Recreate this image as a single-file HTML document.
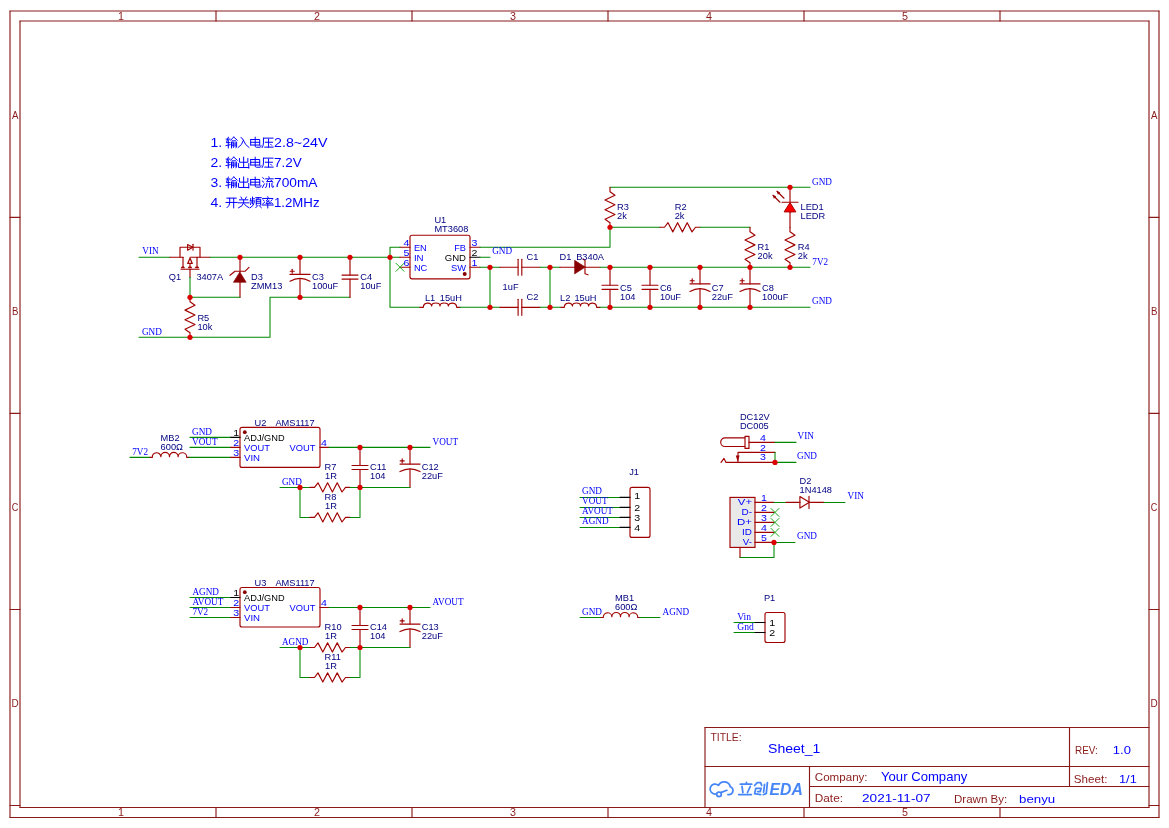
<!DOCTYPE html>
<html><head><meta charset="utf-8"><title>Schematic</title><style>
html,body{margin:0;padding:0;background:#fff;}
svg{display:block;will-change:transform;}
.c,.f,.fb,.tb,.w,.k,.ca{fill:none;stroke-linecap:round;stroke-linejoin:round;}
.f{stroke:#8a1a1a;stroke-width:1.15;}
.fb{stroke:#8a1a1a;stroke-width:1.15;}
.tb{stroke:#8a1a1a;stroke-width:1.15;}
.c{stroke:#a00000;stroke-width:1.15;}
.ca{stroke:#990000;stroke-width:1.1;}
.cg{fill:#e9e9e9;stroke:#a00000;stroke-width:1.15;}
.cf{fill:none;stroke:#a00000;stroke-width:1.1;stroke-linejoin:round;}
.fl{fill:#a00000;}
.fd{fill:#880000;stroke:#880000;stroke-width:0.6;stroke-linejoin:round;}
.fled{fill:#ff0000;stroke:#aa0000;stroke-width:1;stroke-linejoin:round;}
.fa{fill:#990000;}
.dot{fill:#880000;}
.nc{fill:none;stroke:#1aaa1a;stroke-width:1;stroke-linecap:round;}
.w{stroke:#008800;stroke-width:1.05;}
.k{stroke:#000000;stroke-width:1.1;}
.j{fill:#dd0000;}
text{font-family:"Liberation Sans",sans-serif;}
.n{fill:#000080;font-size:9.25px;}
.p{fill:#0000ff;font-size:9.9px;}
.pk{fill:#000000;font-size:9.9px;}
.nl{fill:#0000ff;font-family:"Liberation Serif",serif;font-size:9.2px;}
.nl2{fill:#0000ff;font-family:"Liberation Serif",serif;font-size:9.6px;}
.fr{fill:#8a1a1a;font-size:10.8px;}
.tl{fill:#8a1a1a;}
.tv{fill:#0000ff;}
.nt{fill:#0000ff;}
.cj{fill:none;stroke:#0000ff;stroke-width:1.0;stroke-linecap:round;stroke-linejoin:round;}
</style></head><body>
<svg width="1169" height="828" viewBox="0 0 1169 828">
<g>
<line class="f" x1="10" y1="11" x2="1159" y2="11"/>
<line class="f" x1="10" y1="11" x2="10" y2="817.5"/>
<line class="f" x1="1159" y1="11" x2="1159" y2="817.5"/>
<line class="fb" x1="10" y1="817.5" x2="1159" y2="817.5"/>
<line class="f" x1="20" y1="21" x2="1149" y2="21"/>
<line class="f" x1="20" y1="21" x2="20" y2="807.5"/>
<line class="f" x1="1149" y1="21" x2="1149" y2="807.5"/>
<line class="fb" x1="20" y1="807.5" x2="1149" y2="807.5"/>
<line class="f" x1="216" y1="11" x2="216" y2="21"/>
<line class="fb" x1="216" y1="807.5" x2="216" y2="817.5"/>
<line class="f" x1="412" y1="11" x2="412" y2="21"/>
<line class="fb" x1="412" y1="807.5" x2="412" y2="817.5"/>
<line class="f" x1="608" y1="11" x2="608" y2="21"/>
<line class="fb" x1="608" y1="807.5" x2="608" y2="817.5"/>
<line class="f" x1="804" y1="11" x2="804" y2="21"/>
<line class="fb" x1="804" y1="807.5" x2="804" y2="817.5"/>
<line class="f" x1="1000" y1="11" x2="1000" y2="21"/>
<line class="fb" x1="1000" y1="807.5" x2="1000" y2="817.5"/>
<line class="f" x1="10" y1="217.3" x2="20" y2="217.3"/>
<line class="f" x1="1149" y1="217.3" x2="1159" y2="217.3"/>
<line class="f" x1="10" y1="413.4" x2="20" y2="413.4"/>
<line class="f" x1="1149" y1="413.4" x2="1159" y2="413.4"/>
<line class="f" x1="10" y1="609.5" x2="20" y2="609.5"/>
<line class="f" x1="1149" y1="609.5" x2="1159" y2="609.5"/>
<line class="f" x1="10" y1="805.5" x2="20" y2="805.5"/>
<line class="f" x1="1149" y1="805.5" x2="1159" y2="805.5"/>
<text class="fr" x="118" y="19.8" textLength="5.98" lengthAdjust="spacingAndGlyphs">1</text>
<text class="fr" x="118" y="815.8" textLength="5.98" lengthAdjust="spacingAndGlyphs">1</text>
<text class="fr" x="314" y="19.8" textLength="5.98" lengthAdjust="spacingAndGlyphs">2</text>
<text class="fr" x="314" y="815.8" textLength="5.98" lengthAdjust="spacingAndGlyphs">2</text>
<text class="fr" x="510" y="19.8" textLength="5.98" lengthAdjust="spacingAndGlyphs">3</text>
<text class="fr" x="510" y="815.8" textLength="5.98" lengthAdjust="spacingAndGlyphs">3</text>
<text class="fr" x="706" y="19.8" textLength="5.98" lengthAdjust="spacingAndGlyphs">4</text>
<text class="fr" x="706" y="815.8" textLength="5.98" lengthAdjust="spacingAndGlyphs">4</text>
<text class="fr" x="902" y="19.8" textLength="5.98" lengthAdjust="spacingAndGlyphs">5</text>
<text class="fr" x="902" y="815.8" textLength="5.98" lengthAdjust="spacingAndGlyphs">5</text>
<text class="fr" text-anchor="middle" x="15.1" y="118.9" textLength="6.43" lengthAdjust="spacingAndGlyphs">A</text>
<text class="fr" text-anchor="middle" x="1154.1" y="118.9" textLength="6.43" lengthAdjust="spacingAndGlyphs">A</text>
<text class="fr" text-anchor="middle" x="15.1" y="315" textLength="6.45" lengthAdjust="spacingAndGlyphs">B</text>
<text class="fr" text-anchor="middle" x="1154.1" y="315" textLength="6.45" lengthAdjust="spacingAndGlyphs">B</text>
<text class="fr" text-anchor="middle" x="15.1" y="511.1" textLength="6.56" lengthAdjust="spacingAndGlyphs">C</text>
<text class="fr" text-anchor="middle" x="1154.1" y="511.1" textLength="6.56" lengthAdjust="spacingAndGlyphs">C</text>
<text class="fr" text-anchor="middle" x="15.1" y="707.2" textLength="7.24" lengthAdjust="spacingAndGlyphs">D</text>
<text class="fr" text-anchor="middle" x="1154.1" y="707.2" textLength="7.24" lengthAdjust="spacingAndGlyphs">D</text>
<line class="tb" x1="705" y1="727.5" x2="1149" y2="727.5"/>
<line class="tb" x1="705" y1="727.5" x2="705" y2="807.5"/>
<line class="tb" x1="705" y1="766.5" x2="1149" y2="766.5"/>
<line class="tb" x1="809.5" y1="766.5" x2="809.5" y2="807.5"/>
<line class="tb" x1="809.5" y1="786.5" x2="1149" y2="786.5"/>
<line class="tb" x1="1069.5" y1="727.5" x2="1069.5" y2="786.5"/>
<text class="tl" x="710.5" y="740.7" style="font-size:10.3px" textLength="31.2" lengthAdjust="spacingAndGlyphs">TITLE:</text>
<text class="tv" x="768" y="753" style="font-size:13px" textLength="52.4" lengthAdjust="spacingAndGlyphs">Sheet_1</text>
<text class="tl" x="1075" y="753.8" style="font-size:10.3px" textLength="22.8" lengthAdjust="spacingAndGlyphs">REV:</text>
<text class="tv" x="1112.8" y="753.8" style="font-size:11.4px" textLength="18.1" lengthAdjust="spacingAndGlyphs">1.0</text>
<text class="tl" x="814.8" y="780.7" style="font-size:10.5px" textLength="52.8" lengthAdjust="spacingAndGlyphs">Company:</text>
<text class="tv" x="881" y="780.7" style="font-size:11.9px" textLength="86.3" lengthAdjust="spacingAndGlyphs">Your Company</text>
<text class="tl" x="1073.8" y="782.7" style="font-size:10.4px" textLength="33.6" lengthAdjust="spacingAndGlyphs">Sheet:</text>
<text class="tv" x="1119" y="782.7" style="font-size:11.1px" textLength="17.8" lengthAdjust="spacingAndGlyphs">1/1</text>
<text class="tl" x="814.8" y="802.3" style="font-size:10.4px" textLength="28.2" lengthAdjust="spacingAndGlyphs">Date:</text>
<text class="tv" x="862" y="802.3" style="font-size:11.8px" textLength="68.6" lengthAdjust="spacingAndGlyphs">2021-11-07</text>
<text class="tl" x="954" y="802.8" style="font-size:10.4px" textLength="53.3" lengthAdjust="spacingAndGlyphs">Drawn By:</text>
<text class="tv" x="1019" y="802.8" style="font-size:11.6px" textLength="36.2" lengthAdjust="spacingAndGlyphs">benyu</text>
<line class="w" x1="139" y1="257.29" x2="170" y2="257.29"/>
<text class="nl" transform="matrix(1 0 0 1.12 142.3 254.3)">VIN</text>
<line class="c" x1="170" y1="257.29" x2="183" y2="257.29"/>
<line class="c" x1="183" y1="257.29" x2="183" y2="267.29"/>
<polyline class="c" points="180,257.29 180,247.28 200,247.28 200,257.29"/>
<path class="cf" d="M187.6,244.5 L193,247.3 L187.6,250.2 Z"/>
<line class="c" x1="193" y1="244.28" x2="193" y2="250.28"/>
<line class="c" x1="190" y1="257.29" x2="210" y2="257.29"/>
<line class="c" x1="197" y1="257.29" x2="197" y2="267.29"/>
<line class="c" x1="190" y1="263.6" x2="190" y2="267.2"/>
<path class="cf" style="stroke-width:1.25" d="M190,258.2 L192.3,263.4 L187.7,263.4 Z"/>
<path class="fl" d="M180.6,268.2 L181.79999999999998,266.4 L184.0,266.4 L185.2,268.2 Z"/>
<path class="fl" d="M187.6,268.2 L188.79999999999998,266.4 L191.20000000000002,266.4 L192.4,268.2 Z"/>
<path class="fl" d="M194.6,268.2 L195.79999999999998,266.4 L198.20000000000002,266.4 L199.4,268.2 Z"/>
<line class="c" x1="181" y1="269.29" x2="199" y2="269.29"/>
<line class="c" x1="190" y1="269.29" x2="190" y2="277.3"/>
<line class="w" x1="190" y1="277.3" x2="190" y2="297.31"/>
<text class="n" transform="matrix(1 0 0 1.0 168.8 280)">Q1</text>
<text class="n" transform="matrix(1 0 0 1.0 196.4 280)">3407A</text>
<line class="w" x1="210" y1="257.29" x2="400" y2="257.29"/>
<line class="c" x1="240" y1="257.29" x2="240" y2="272.29"/>
<line class="c" x1="240" y1="282.3" x2="240" y2="297.31"/>
<path class="fd" d="M239.8,272 L246.2,282.3 L233.4,282.3 Z"/>
<polyline class="c" points="230,275.29 235,271.29 245,271.29 249,267.29"/>
<text class="n" transform="matrix(1 0 0 1.0 251 280)">D3</text>
<text class="n" transform="matrix(1 0 0 1.0 251 289.4)">ZMM13</text>
<line class="w" x1="190" y1="297.31" x2="240" y2="297.31"/>
<polyline class="c" points="190,297.31 190,301.81 195,305.31 185,310.11 195,314.91 185,319.7 195,324.5 185,329.31 190,332.81 190,337.31"/>
<text class="n" transform="matrix(1 0 0 1.0 197.4 320.6)">R5</text>
<text class="n" transform="matrix(1 0 0 1.0 197.4 329.7)">10k</text>
<polyline class="w" points="139,337.32 270,337.32 270,297.31 350,297.31"/>
<text class="nl" transform="matrix(1 0 0 1.12 141.9 334.6)">GND</text>
<line class="c" x1="300" y1="257.29" x2="300" y2="274.4"/>
<line class="c" x1="300" y1="278.6" x2="300" y2="297.31"/>
<line class="c" x1="290" y1="274.4" x2="310" y2="274.4"/>
<path class="c" d="M290,281.2 Q300,275.6 310,281.2"/>
<line class="c" x1="290.2" y1="271.2" x2="294.2" y2="271.2"/>
<line class="c" x1="292.2" y1="269.2" x2="292.2" y2="273.2"/>
<text class="n" transform="matrix(1 0 0 1.0 312 280.4)">C3</text>
<text class="n" transform="matrix(1 0 0 1.0 312 289.2)">100uF</text>
<line class="c" x1="350" y1="257.29" x2="350" y2="275.1"/>
<line class="c" x1="350" y1="279.1" x2="350" y2="297.31"/>
<line class="c" x1="342" y1="275.1" x2="358" y2="275.1"/>
<line class="c" x1="342" y1="279.1" x2="358" y2="279.1"/>
<text class="n" transform="matrix(1 0 0 1.0 360.3 280.4)">C4</text>
<text class="n" transform="matrix(1 0 0 1.0 360.3 289.2)">10uF</text>
<rect class="c" x="410" y="235.27" width="60" height="43.53" rx="2"/>
<line class="c" x1="400" y1="247.28" x2="410" y2="247.28"/>
<line class="c" x1="400" y1="257.29" x2="410" y2="257.29"/>
<line class="c" x1="400" y1="267.29" x2="410" y2="267.29"/>
<line class="c" x1="470" y1="247.28" x2="480" y2="247.28"/>
<line class="k" x1="470" y1="257.29" x2="480" y2="257.29"/>
<line class="c" x1="470" y1="267.29" x2="480" y2="267.29"/>
<text class="p" x="403.6" y="245.9" textLength="5.92" lengthAdjust="spacingAndGlyphs">4</text>
<text class="p" x="403.6" y="255.8" textLength="5.92" lengthAdjust="spacingAndGlyphs">5</text>
<text class="p" x="403.6" y="265.8" textLength="5.92" lengthAdjust="spacingAndGlyphs">6</text>
<text class="p" x="413.9" y="250.5" textLength="12.83" lengthAdjust="spacingAndGlyphs">EN</text>
<text class="p" x="413.9" y="260.5" textLength="9.7" lengthAdjust="spacingAndGlyphs">IN</text>
<text class="p" x="413.9" y="270.8" textLength="13.45" lengthAdjust="spacingAndGlyphs">NC</text>
<text class="p" text-anchor="end" x="466" y="250.5" textLength="11.73" lengthAdjust="spacingAndGlyphs">FB</text>
<text class="pk" text-anchor="end" x="466" y="260.5" textLength="21.32" lengthAdjust="spacingAndGlyphs">GND</text>
<text class="p" text-anchor="end" x="466" y="270.8" textLength="15.1" lengthAdjust="spacingAndGlyphs">SW</text>
<text class="p" x="471.6" y="245.9" textLength="5.92" lengthAdjust="spacingAndGlyphs">3</text>
<text class="pk" x="471.6" y="255.8" textLength="5.92" lengthAdjust="spacingAndGlyphs">2</text>
<text class="p" x="471.6" y="265.8" textLength="5.92" lengthAdjust="spacingAndGlyphs">1</text>
<circle class="dot" cx="464.7" cy="274.1" r="2"/>
<text class="n" transform="matrix(1 0 0 1.0 434.4 223.3)">U1</text>
<text class="n" transform="matrix(1 0 0 1.0 434.4 231.6)">MT3608</text>
<line class="nc" x1="396" y1="263.29" x2="404" y2="271.29"/>
<line class="nc" x1="396" y1="271.29" x2="404" y2="263.29"/>
<polyline class="w" points="400,247.28 390,247.28 390,307.31 420,307.31"/>
<polyline class="w" points="480,247.28 610,247.28 610,227.27"/>
<polyline class="w" points="610,187.25 810,187.25"/>
<line class="w" x1="480" y1="257.29" x2="490" y2="257.29"/>
<text class="nl" transform="matrix(1 0 0 1.12 492.2 254.3)">GND</text>
<line class="w" x1="480" y1="267.29" x2="500" y2="267.29"/>
<line class="w" x1="490" y1="267.29" x2="490" y2="307.31"/>
<path class="c" d="M420,307.31 L423.3,307.31 C423.5,302.01 431.45,302.01 431.65,305.91 C431.85,302.01 439.8,302.01 440,305.91 C440.2,302.01 448.15,302.01 448.35,305.91 C448.55,302.01 456.5,302.01 456.7,307.31 L460,307.31"/>
<text class="n" transform="matrix(1 0 0 1.0 424.9 300.7)">L1</text>
<text class="n" transform="matrix(1 0 0 1.0 439.8 300.7)">15uH</text>
<line class="w" x1="460" y1="307.31" x2="500" y2="307.31"/>
<line class="c" x1="500" y1="267.29" x2="518.1" y2="267.29"/>
<line class="c" x1="521.8" y1="267.29" x2="540" y2="267.29"/>
<line class="c" x1="518.1" y1="259.29" x2="518.1" y2="275.29"/>
<line class="c" x1="521.8" y1="259.29" x2="521.8" y2="275.29"/>
<line class="c" x1="500" y1="307.31" x2="518.1" y2="307.31"/>
<line class="c" x1="521.8" y1="307.31" x2="540" y2="307.31"/>
<line class="c" x1="518.1" y1="299.31" x2="518.1" y2="315.31"/>
<line class="c" x1="521.8" y1="299.31" x2="521.8" y2="315.31"/>
<text class="n" transform="matrix(1 0 0 1.0 526.5 260)">C1</text>
<text class="n" transform="matrix(1 0 0 1.0 526.5 300.3)">C2</text>
<text class="n" transform="matrix(1 0 0 1.0 502.6 290)">1uF</text>
<line class="w" x1="540" y1="267.29" x2="560" y2="267.29"/>
<line class="w" x1="540" y1="307.31" x2="561" y2="307.31"/>
<line class="w" x1="550" y1="267.29" x2="550" y2="307.31"/>
<line class="c" x1="560" y1="267.29" x2="575" y2="267.29"/>
<path class="fd" d="M574.6,260.3 L585.3,267.1 L574.6,273.9 Z"/>
<polyline class="c" points="583,259.29 585,260.29 585,273.8 588,274.8"/>
<line class="c" x1="585" y1="267.29" x2="600" y2="267.29"/>
<text class="n" transform="matrix(1 0 0 1.0 559.5 259.7)">D1</text>
<text class="n" transform="matrix(1 0 0 1.0 576.2 259.7)">B340A</text>
<line class="w" x1="600" y1="267.29" x2="810" y2="267.29"/>
<path class="c" d="M561,307.31 L564.3,307.31 C564.5,302.01 572.2,302.01 572.4,305.91 C572.6,302.01 580.3,302.01 580.5,305.91 C580.7,302.01 588.4,302.01 588.6,305.91 C588.8,302.01 596.5,302.01 596.7,307.31 L600,307.31"/>
<text class="n" transform="matrix(1 0 0 1.0 560 300.7)">L2</text>
<text class="n" transform="matrix(1 0 0 1.0 574.4 300.7)">15uH</text>
<line class="w" x1="600" y1="307.31" x2="810" y2="307.31"/>
<line class="c" x1="610" y1="267.29" x2="610" y2="285.2"/>
<line class="c" x1="610" y1="289.3" x2="610" y2="307.31"/>
<line class="c" x1="602" y1="285.2" x2="618" y2="285.2"/>
<line class="c" x1="602" y1="289.3" x2="618" y2="289.3"/>
<text class="n" transform="matrix(1 0 0 1.0 620 290.5)">C5</text>
<text class="n" transform="matrix(1 0 0 1.0 620 299.6)">104</text>
<line class="c" x1="650" y1="267.29" x2="650" y2="285.2"/>
<line class="c" x1="650" y1="289.3" x2="650" y2="307.31"/>
<line class="c" x1="642" y1="285.2" x2="658" y2="285.2"/>
<line class="c" x1="642" y1="289.3" x2="658" y2="289.3"/>
<text class="n" transform="matrix(1 0 0 1.0 659.9 290.5)">C6</text>
<text class="n" transform="matrix(1 0 0 1.0 659.9 299.6)">10uF</text>
<line class="c" x1="700" y1="267.29" x2="700" y2="283.9"/>
<line class="c" x1="700" y1="288.8" x2="700" y2="307.31"/>
<line class="c" x1="690" y1="283.9" x2="710" y2="283.9"/>
<path class="c" d="M690,291.4 Q700,285.8 710,291.4"/>
<line class="c" x1="690.2" y1="280.7" x2="694.2" y2="280.7"/>
<line class="c" x1="692.2" y1="278.7" x2="692.2" y2="282.7"/>
<text class="n" transform="matrix(1 0 0 1.0 711.8 290.5)">C7</text>
<text class="n" transform="matrix(1 0 0 1.0 711.8 299.6)">22uF</text>
<line class="c" x1="750" y1="267.29" x2="750" y2="283.9"/>
<line class="c" x1="750" y1="288.8" x2="750" y2="307.31"/>
<line class="c" x1="740" y1="283.9" x2="760" y2="283.9"/>
<path class="c" d="M740,291.4 Q750,285.8 760,291.4"/>
<line class="c" x1="740.2" y1="280.7" x2="744.2" y2="280.7"/>
<line class="c" x1="742.2" y1="278.7" x2="742.2" y2="282.7"/>
<text class="n" transform="matrix(1 0 0 1.0 762.1 290.5)">C8</text>
<text class="n" transform="matrix(1 0 0 1.0 762.1 299.6)">100uF</text>
<polyline class="c" points="610,187.25 610,191.75 615,195.25 605,200.05 615,204.85 605,209.65 615,214.45 605,219.25 610,222.75 610,227.25"/>
<text class="n" transform="matrix(1 0 0 1.0 617.1 210.2)">R3</text>
<text class="n" transform="matrix(1 0 0 1.0 617.1 219.3)">2k</text>
<line class="w" x1="610" y1="227.27" x2="660" y2="227.27"/>
<polyline class="c" points="660,227.27 664.5,227.27 668,222.67 672.8,231.87 677.6,222.67 682.4,231.87 687.2,222.67 692,231.87 695.5,227.27 700,227.27"/>
<text class="n" transform="matrix(1 0 0 1.0 674.7 210)">R2</text>
<text class="n" transform="matrix(1 0 0 1.0 674.7 219.3)">2k</text>
<line class="w" x1="700" y1="227.27" x2="750" y2="227.27"/>
<polyline class="c" points="750,227.27 750,231.77 755,235.27 745,240.07 755,244.87 745,249.67 755,254.47 745,259.27 750,262.77 750,267.27"/>
<text class="n" transform="matrix(1 0 0 1.0 757.6 250)">R1</text>
<text class="n" transform="matrix(1 0 0 1.0 757.6 259.1)">20k</text>
<line class="c" x1="790" y1="187.25" x2="790" y2="202.26"/>
<line class="c" x1="782" y1="202.26" x2="798" y2="202.26"/>
<path class="fled" d="M790,202.6 L795.9,211.9 L784.1,211.9 Z"/>
<line class="c" x1="790" y1="212.26" x2="790" y2="227.27"/>
<polyline class="c" points="790,227.27 790,231.77 795,235.27 785,240.07 795,244.87 785,249.67 795,254.47 785,259.27 790,262.77 790,267.27"/>
<line class="ca" x1="784" y1="198.26" x2="777" y2="191.25"/>
<path class="fa" d="M776.6,191.1 L780.24,192.18 L777.92,194.66 Z"/>
<line class="ca" x1="780" y1="202.26" x2="773" y2="195.25"/>
<path class="fa" d="M772.6,195.1 L776.24,196.2 L773.9,198.67 Z"/>
<text class="n" transform="matrix(1 0 0 1.0 800.5 210.2)">LED1</text>
<text class="n" transform="matrix(1 0 0 1.0 800.5 218.9)">LEDR</text>
<text class="n" transform="matrix(1 0 0 1.0 797.8 250)">R4</text>
<text class="n" transform="matrix(1 0 0 1.0 797.8 259.1)">2k</text>
<text class="nl" transform="matrix(1 0 0 1.12 812 184.5)">GND</text>
<text class="nl" transform="matrix(1 0 0 1.12 812.3 264.6)">7V2</text>
<text class="nl" transform="matrix(1 0 0 1.12 812 304.4)">GND</text>
<rect class="c" x="240" y="427.37" width="80" height="40.02" rx="2"/>
<line class="k" x1="230" y1="437.38" x2="240" y2="437.38"/>
<line class="c" x1="230" y1="447.38" x2="240" y2="447.38"/>
<line class="c" x1="230" y1="457.38" x2="240" y2="457.38"/>
<text class="pk" text-anchor="end" x="239.3" y="435.7" textLength="5.92" lengthAdjust="spacingAndGlyphs">1</text>
<text class="p" text-anchor="end" x="239.3" y="445.9" textLength="5.92" lengthAdjust="spacingAndGlyphs">2</text>
<text class="p" text-anchor="end" x="239.3" y="455.7" textLength="5.92" lengthAdjust="spacingAndGlyphs">3</text>
<circle class="dot" cx="244.8" cy="432.2" r="1.9"/>
<text class="pk" x="244" y="441" textLength="40.72" lengthAdjust="spacingAndGlyphs">ADJ/GND</text>
<text class="p" x="244" y="450.8" textLength="26.01" lengthAdjust="spacingAndGlyphs">VOUT</text>
<text class="p" x="244" y="460.9" textLength="16.06" lengthAdjust="spacingAndGlyphs">VIN</text>
<text class="p" text-anchor="end" x="315.6" y="450.9" textLength="26.01" lengthAdjust="spacingAndGlyphs">VOUT</text>
<line class="c" x1="320" y1="447.38" x2="329" y2="447.38"/>
<text class="p" x="321" y="446" textLength="5.92" lengthAdjust="spacingAndGlyphs">4</text>
<text class="n" transform="matrix(1 0 0 1.0 254.5 425.7)">U2</text>
<text class="n" transform="matrix(1 0 0 1.0 275.4 425.7)">AMS1117</text>
<line class="w" x1="329" y1="447.38" x2="430" y2="447.38"/>
<text class="nl" transform="matrix(1 0 0 1.12 432.6 444.5)">VOUT</text>
<line class="c" x1="360" y1="447.38" x2="360" y2="465.5"/>
<line class="c" x1="360" y1="469.5" x2="360" y2="487.4"/>
<line class="c" x1="352" y1="465.5" x2="368" y2="465.5"/>
<line class="c" x1="352" y1="469.5" x2="368" y2="469.5"/>
<text class="n" transform="matrix(1 0 0 1.0 370 470)">C11</text>
<text class="n" transform="matrix(1 0 0 1.0 370 479.3)">104</text>
<line class="c" x1="410" y1="447.38" x2="410" y2="464.1"/>
<line class="c" x1="410" y1="469" x2="410" y2="487.4"/>
<line class="c" x1="400" y1="464.1" x2="420" y2="464.1"/>
<path class="c" d="M400,471.6 Q410,466 420,471.6"/>
<line class="c" x1="400.2" y1="460.9" x2="404.2" y2="460.9"/>
<line class="c" x1="402.2" y1="458.9" x2="402.2" y2="462.9"/>
<text class="n" transform="matrix(1 0 0 1.0 421.8 470)">C12</text>
<text class="n" transform="matrix(1 0 0 1.0 421.8 479.3)">22uF</text>
<line class="w" x1="280" y1="487.4" x2="310" y2="487.4"/>
<text class="nl" transform="matrix(1 0 0 1.12 281.9 484.6)">GND</text>
<polyline class="c" points="310,487.4 314.5,487.4 318,482.8 322.8,492 327.6,482.8 332.4,492 337.2,482.8 342,492 345.5,487.4 350,487.4"/>
<polyline class="w" points="350,487.4 410,487.4"/>
<polyline class="w" points="300,487.4 300,517.41 310,517.41"/>
<polyline class="c" points="310,517.41 314.5,517.41 318,512.81 322.8,522.01 327.6,512.81 332.4,522.01 337.2,512.81 342,522.01 345.5,517.41 350,517.41"/>
<polyline class="w" points="350,517.41 360,517.41 360,487.4"/>
<text class="n" transform="matrix(1 0 0 1.0 324.6 470)">R7</text>
<text class="n" transform="matrix(1 0 0 1.0 325 479.3)">1R</text>
<text class="n" transform="matrix(1 0 0 1.0 324.6 500.1)">R8</text>
<text class="n" transform="matrix(1 0 0 1.0 325 509.4)">1R</text>
<rect class="c" x="240" y="587.45" width="80" height="39.55" rx="2"/>
<line class="k" x1="230" y1="597.45" x2="240" y2="597.45"/>
<line class="c" x1="230" y1="607.46" x2="240" y2="607.46"/>
<line class="c" x1="230" y1="617.46" x2="240" y2="617.46"/>
<text class="pk" text-anchor="end" x="239.3" y="595.7" textLength="5.92" lengthAdjust="spacingAndGlyphs">1</text>
<text class="p" text-anchor="end" x="239.3" y="605.9" textLength="5.92" lengthAdjust="spacingAndGlyphs">2</text>
<text class="p" text-anchor="end" x="239.3" y="615.7" textLength="5.92" lengthAdjust="spacingAndGlyphs">3</text>
<circle class="dot" cx="244.8" cy="592.2" r="1.9"/>
<text class="pk" x="244" y="601" textLength="40.72" lengthAdjust="spacingAndGlyphs">ADJ/GND</text>
<text class="p" x="244" y="610.8" textLength="26.01" lengthAdjust="spacingAndGlyphs">VOUT</text>
<text class="p" x="244" y="620.9" textLength="16.06" lengthAdjust="spacingAndGlyphs">VIN</text>
<text class="p" text-anchor="end" x="315.6" y="610.9" textLength="26.01" lengthAdjust="spacingAndGlyphs">VOUT</text>
<line class="c" x1="320" y1="607.46" x2="329" y2="607.46"/>
<text class="p" x="321" y="606" textLength="5.92" lengthAdjust="spacingAndGlyphs">4</text>
<text class="n" transform="matrix(1 0 0 1.0 254.5 585.7)">U3</text>
<text class="n" transform="matrix(1 0 0 1.0 275.4 585.7)">AMS1117</text>
<line class="w" x1="329" y1="607.46" x2="430" y2="607.46"/>
<text class="nl" transform="matrix(1 0 0 1.12 432.6 604.5)">AVOUT</text>
<line class="c" x1="360" y1="607.46" x2="360" y2="625.5"/>
<line class="c" x1="360" y1="629.5" x2="360" y2="647.48"/>
<line class="c" x1="352" y1="625.5" x2="368" y2="625.5"/>
<line class="c" x1="352" y1="629.5" x2="368" y2="629.5"/>
<text class="n" transform="matrix(1 0 0 1.0 370 630)">C14</text>
<text class="n" transform="matrix(1 0 0 1.0 370 639.3)">104</text>
<line class="c" x1="410" y1="607.46" x2="410" y2="624.1"/>
<line class="c" x1="410" y1="629" x2="410" y2="647.48"/>
<line class="c" x1="400" y1="624.1" x2="420" y2="624.1"/>
<path class="c" d="M400,631.6 Q410,626 420,631.6"/>
<line class="c" x1="400.2" y1="620.9" x2="404.2" y2="620.9"/>
<line class="c" x1="402.2" y1="618.9" x2="402.2" y2="622.9"/>
<text class="n" transform="matrix(1 0 0 1.0 421.8 630)">C13</text>
<text class="n" transform="matrix(1 0 0 1.0 421.8 639.3)">22uF</text>
<line class="w" x1="280" y1="647.48" x2="310" y2="647.48"/>
<text class="nl" transform="matrix(1 0 0 1.12 281.9 644.6)">AGND</text>
<polyline class="c" points="310,647.48 314.5,647.48 318,642.88 322.8,652.08 327.6,642.88 332.4,652.08 337.2,642.88 342,652.08 345.5,647.48 350,647.48"/>
<polyline class="w" points="350,647.48 410,647.48"/>
<polyline class="w" points="300,647.48 300,677.49 310,677.49"/>
<polyline class="c" points="310,677.49 314.5,677.49 318,672.89 322.8,682.09 327.6,672.89 332.4,682.09 337.2,672.89 342,682.09 345.5,677.49 350,677.49"/>
<polyline class="w" points="350,677.49 360,677.49 360,647.48"/>
<text class="n" transform="matrix(1 0 0 1.0 324.6 630)">R10</text>
<text class="n" transform="matrix(1 0 0 1.0 325 639.3)">1R</text>
<text class="n" transform="matrix(1 0 0 1.0 324.6 660.1)">R11</text>
<text class="n" transform="matrix(1 0 0 1.0 325 669.4)">1R</text>
<line class="w" x1="190" y1="437.38" x2="230" y2="437.38"/>
<text class="nl" transform="matrix(1 0 0 1.12 192 434.7)">GND</text>
<line class="w" x1="190" y1="447.38" x2="230" y2="447.38"/>
<text class="nl" transform="matrix(1 0 0 1.12 192 444.7)">VOUT</text>
<line class="w" x1="130" y1="457.38" x2="150" y2="457.38"/>
<text class="nl" transform="matrix(1 0 0 1.12 132.2 454.6)">7V2</text>
<path class="c" d="M150,457.38 L152.3,457.38 A4.3,4.3 0 0 1 160.9,456.69 A4.3,4.3 0 0 1 169.5,456.69 A4.3,4.3 0 0 1 178.1,456.69 A4.3,4.3 0 0 1 186.7,457.38 L189,457.38"/>
<line class="w" x1="189" y1="457.38" x2="230" y2="457.38"/>
<text class="n" transform="matrix(1 0 0 1.0 160.6 440.7)">MB2</text>
<text class="n" transform="matrix(1 0 0 1.0 160.6 449.8)">600Ω</text>
<line class="w" x1="190" y1="597.45" x2="230" y2="597.45"/>
<text class="nl" transform="matrix(1 0 0 1.12 192.4 594.8)">AGND</text>
<line class="w" x1="190" y1="607.46" x2="230" y2="607.46"/>
<text class="nl" transform="matrix(1 0 0 1.12 192.4 604.7)">AVOUT</text>
<line class="w" x1="190" y1="617.46" x2="230" y2="617.46"/>
<text class="nl" transform="matrix(1 0 0 1.12 192.4 614.7)">7V2</text>
<rect class="c" x="630" y="487.4" width="20" height="50.02" rx="2"/>
<line class="w" x1="580" y1="497.4" x2="620" y2="497.4"/>
<line class="k" x1="620" y1="497.4" x2="630" y2="497.4"/>
<text class="nl" transform="matrix(1 0 0 1.12 582 494.3)">GND</text>
<text class="pk" x="634.3" y="499.4" textLength="5.92" lengthAdjust="spacingAndGlyphs">1</text>
<line class="w" x1="580" y1="507.41" x2="620" y2="507.41"/>
<line class="k" x1="620" y1="507.41" x2="630" y2="507.41"/>
<text class="nl" transform="matrix(1 0 0 1.12 582 504.3)">VOUT</text>
<text class="pk" x="634.3" y="511" textLength="5.92" lengthAdjust="spacingAndGlyphs">2</text>
<line class="w" x1="580" y1="517.41" x2="620" y2="517.41"/>
<line class="k" x1="620" y1="517.41" x2="630" y2="517.41"/>
<text class="nl" transform="matrix(1 0 0 1.12 582 514.3)">AVOUT</text>
<text class="pk" x="634.3" y="521.3" textLength="5.92" lengthAdjust="spacingAndGlyphs">3</text>
<line class="w" x1="580" y1="527.42" x2="620" y2="527.42"/>
<line class="k" x1="620" y1="527.42" x2="630" y2="527.42"/>
<text class="nl" transform="matrix(1 0 0 1.12 582 524.3)">AGND</text>
<text class="pk" x="634.3" y="531.1" textLength="5.92" lengthAdjust="spacingAndGlyphs">4</text>
<text class="n" transform="matrix(1 0 0 1.0 629.2 475.1)">J1</text>
<line class="w" x1="580" y1="617.46" x2="601" y2="617.46"/>
<path class="c" d="M601,617.46 L603.3,617.46 A4.3,4.3 0 0 1 611.9,616.76 A4.3,4.3 0 0 1 620.5,616.76 A4.3,4.3 0 0 1 629.1,616.76 A4.3,4.3 0 0 1 637.7,617.46 L640,617.46"/>
<line class="w" x1="640" y1="617.46" x2="660" y2="617.46"/>
<text class="nl" transform="matrix(1 0 0 1.12 582 614.5)">GND</text>
<text class="nl" transform="matrix(1 0 0 1.12 662.5 614.5)">AGND</text>
<text class="n" transform="matrix(1 0 0 1.0 615 600.6)">MB1</text>
<text class="n" transform="matrix(1 0 0 1.0 615 609.6)">600Ω</text>
<text class="n" transform="matrix(1 0 0 1.0 739.9 419.5)">DC12V</text>
<text class="n" transform="matrix(1 0 0 1.0 739.9 428.5)">DC005</text>
<path class="c" d="M744.8,437.9 H725 A4.3,4.3 0 0 0 725,446.5 H744.8"/>
<rect class="c" x="745" y="436.37" width="4" height="12.01"/>
<line class="c" x1="749" y1="442.38" x2="775" y2="442.38"/>
<line class="w" x1="775" y1="442.38" x2="796" y2="442.38"/>
<text class="p" x="760" y="440.8" textLength="5.92" lengthAdjust="spacingAndGlyphs">4</text>
<text class="p" x="760" y="450.7" textLength="5.92" lengthAdjust="spacingAndGlyphs">2</text>
<text class="p" x="760" y="460.4" textLength="5.92" lengthAdjust="spacingAndGlyphs">3</text>
<polyline class="c" points="738,461.39 738,452.38 775,452.38"/>
<path class="fl" d="M737.7,461.5 L739.6,455.6 L735.8,455.6 Z"/>
<line class="w" x1="775" y1="452.38" x2="775" y2="462.39"/>
<polyline class="c" points="721,462.39 724,458.39 726,462.39 775,462.39"/>
<line class="w" x1="775" y1="462.39" x2="796" y2="462.39"/>
<text class="nl" transform="matrix(1 0 0 1.12 797.6 439.1)">VIN</text>
<text class="nl" transform="matrix(1 0 0 1.12 797.1 459.3)">GND</text>
<rect class="cg" x="730" y="497.4" width="25" height="50.02"/>
<line class="c" x1="755" y1="502.41" x2="774" y2="502.41"/>
<text class="p" text-anchor="end" x="752" y="504.9" textLength="14.15" lengthAdjust="spacingAndGlyphs">V+</text>
<text class="p" x="760.9" y="500.8" textLength="5.92" lengthAdjust="spacingAndGlyphs">1</text>
<line class="c" x1="755" y1="512.41" x2="774" y2="512.41"/>
<text class="p" text-anchor="end" x="752" y="514.9" textLength="10.52" lengthAdjust="spacingAndGlyphs">D-</text>
<text class="p" x="760.9" y="510.8" textLength="5.92" lengthAdjust="spacingAndGlyphs">2</text>
<line class="c" x1="755" y1="522.42" x2="774" y2="522.42"/>
<text class="p" text-anchor="end" x="752" y="524.9" textLength="14.95" lengthAdjust="spacingAndGlyphs">D+</text>
<text class="p" x="760.9" y="520.8" textLength="5.92" lengthAdjust="spacingAndGlyphs">3</text>
<line class="c" x1="755" y1="532.42" x2="774" y2="532.42"/>
<text class="p" text-anchor="end" x="752" y="534.9" textLength="9.9" lengthAdjust="spacingAndGlyphs">ID</text>
<text class="p" x="760.9" y="530.8" textLength="5.92" lengthAdjust="spacingAndGlyphs">4</text>
<line class="c" x1="755" y1="542.43" x2="774" y2="542.43"/>
<text class="p" text-anchor="end" x="752" y="544.9" textLength="9.17" lengthAdjust="spacingAndGlyphs">V-</text>
<text class="p" x="760.9" y="540.8" textLength="5.92" lengthAdjust="spacingAndGlyphs">5</text>
<line class="nc" x1="771" y1="508.41" x2="779" y2="516.41"/>
<line class="nc" x1="771" y1="516.41" x2="779" y2="508.41"/>
<line class="nc" x1="771" y1="518.42" x2="779" y2="526.42"/>
<line class="nc" x1="771" y1="526.42" x2="779" y2="518.42"/>
<line class="nc" x1="771" y1="528.42" x2="779" y2="536.42"/>
<line class="nc" x1="771" y1="536.42" x2="779" y2="528.42"/>
<line class="w" x1="774" y1="502.41" x2="786" y2="502.41"/>
<line class="c" x1="786" y1="502.41" x2="800" y2="502.41"/>
<path class="c" d="M799.9,496.5 L809.4,502.3 L799.9,508.1 Z"/>
<line class="c" x1="809" y1="496.4" x2="809" y2="508.41"/>
<line class="c" x1="809" y1="502.41" x2="824" y2="502.41"/>
<line class="w" x1="824" y1="502.41" x2="845" y2="502.41"/>
<text class="n" transform="matrix(1 0 0 1.0 799.6 484)">D2</text>
<text class="n" transform="matrix(1 0 0 1.0 799.6 492.6)">1N4148</text>
<text class="nl" transform="matrix(1 0 0 1.12 847.5 499.4)">VIN</text>
<line class="w" x1="774" y1="542.43" x2="795" y2="542.43"/>
<text class="nl" transform="matrix(1 0 0 1.12 797.1 539.1)">GND</text>
<line class="c" x1="740" y1="547.43" x2="740" y2="557.43"/>
<polyline class="w" points="740,557.43 774,557.43 774,542.43"/>
<rect class="c" x="765" y="612.46" width="20" height="30.01" rx="2"/>
<line class="w" x1="734" y1="622.47" x2="755" y2="622.47"/>
<line class="k" x1="755" y1="622.47" x2="765" y2="622.47"/>
<line class="w" x1="734" y1="632.47" x2="755" y2="632.47"/>
<line class="k" x1="755" y1="632.47" x2="765" y2="632.47"/>
<text class="pk" x="769.3" y="626.2" textLength="5.92" lengthAdjust="spacingAndGlyphs">1</text>
<text class="pk" x="769.3" y="636.4" textLength="5.92" lengthAdjust="spacingAndGlyphs">2</text>
<text class="n" transform="matrix(1 0 0 1.0 763.9 601.1)">P1</text>
<text class="nl2" transform="matrix(1 0 0 1.0 737.2 619.5)">Vin</text>
<text class="nl2" transform="matrix(1 0 0 1.0 737.2 629.7)">Gnd</text>
<text class="nt" x="210.5" y="147.2" style="font-size:12.2px" textLength="11.64" lengthAdjust="spacingAndGlyphs">1.</text>
<path class="cj" transform="translate(225.6,136.64)" d="M0.5,2.5 H4.4 M2.8,0.5 L0.8,6 H4.5 M2.7,3.6 V11.4 M0.3,8.9 L4.7,8.1 M8.1,0.4 L4.9,3.7 M8.1,0.4 L11.7,3.6 M6.5,4.2 H10 M5.9,5.6 V11.3 M5.9,5.6 H8.2 V10.6 L7.6,11 M5.9,7.4 H8.2 M5.9,9.1 H8.2 M9.6,6 V9.6 M11,5.3 V10.6 L10.2,11"/>
<path class="cj" transform="translate(237.65,136.64)" d="M3.3,0.9 Q5.2,1.6 5.7,3.6 Q4.6,8.4 0.5,10.9 M5.7,3.6 Q7.4,8.6 11.4,10.9"/>
<path class="cj" transform="translate(249.7,136.64)" d="M1,2.9 V8.4 M1,2.9 H10 V8.4 M1,5.65 H10 M1,8.4 H10 M5.5,0.5 V9.5 Q5.5,10.6 6.7,10.6 H10.4 Q11.3,10.6 11.4,8.9"/>
<path class="cj" transform="translate(261.75,136.64)" d="M1.7,1.5 H11.4 M1.7,1.5 V6.3 Q1.6,9.6 0.4,11 M3.5,5.6 H10.8 M6.8,2.6 V10.5 M2.9,10.5 H11.5 M8.8,7.5 L10,8.7"/>
<text class="nt" x="274" y="147.2" style="font-size:12.2px" textLength="53.5" lengthAdjust="spacingAndGlyphs">2.8~24V</text>
<text class="nt" x="210.5" y="167.2" style="font-size:12.2px" textLength="11.64" lengthAdjust="spacingAndGlyphs">2.</text>
<path class="cj" transform="translate(225.6,156.64)" d="M0.5,2.5 H4.4 M2.8,0.5 L0.8,6 H4.5 M2.7,3.6 V11.4 M0.3,8.9 L4.7,8.1 M8.1,0.4 L4.9,3.7 M8.1,0.4 L11.7,3.6 M6.5,4.2 H10 M5.9,5.6 V11.3 M5.9,5.6 H8.2 V10.6 L7.6,11 M5.9,7.4 H8.2 M5.9,9.1 H8.2 M9.6,6 V9.6 M11,5.3 V10.6 L10.2,11"/>
<path class="cj" transform="translate(237.65,156.64)" d="M6,0.4 V10.9 M1.8,1.8 V5.6 H10.2 V1.8 M0.9,6.9 V10.9 H11.1 M11.1,6.9 V11.5"/>
<path class="cj" transform="translate(249.7,156.64)" d="M1,2.9 V8.4 M1,2.9 H10 V8.4 M1,5.65 H10 M1,8.4 H10 M5.5,0.5 V9.5 Q5.5,10.6 6.7,10.6 H10.4 Q11.3,10.6 11.4,8.9"/>
<path class="cj" transform="translate(261.75,156.64)" d="M1.7,1.5 H11.4 M1.7,1.5 V6.3 Q1.6,9.6 0.4,11 M3.5,5.6 H10.8 M6.8,2.6 V10.5 M2.9,10.5 H11.5 M8.8,7.5 L10,8.7"/>
<text class="nt" x="274" y="167.2" style="font-size:12.2px" textLength="27.75" lengthAdjust="spacingAndGlyphs">7.2V</text>
<text class="nt" x="210.5" y="187.1" style="font-size:12.2px" textLength="11.64" lengthAdjust="spacingAndGlyphs">3.</text>
<path class="cj" transform="translate(225.6,176.54)" d="M0.5,2.5 H4.4 M2.8,0.5 L0.8,6 H4.5 M2.7,3.6 V11.4 M0.3,8.9 L4.7,8.1 M8.1,0.4 L4.9,3.7 M8.1,0.4 L11.7,3.6 M6.5,4.2 H10 M5.9,5.6 V11.3 M5.9,5.6 H8.2 V10.6 L7.6,11 M5.9,7.4 H8.2 M5.9,9.1 H8.2 M9.6,6 V9.6 M11,5.3 V10.6 L10.2,11"/>
<path class="cj" transform="translate(237.65,176.54)" d="M6,0.4 V10.9 M1.8,1.8 V5.6 H10.2 V1.8 M0.9,6.9 V10.9 H11.1 M11.1,6.9 V11.5"/>
<path class="cj" transform="translate(249.7,176.54)" d="M1,2.9 V8.4 M1,2.9 H10 V8.4 M1,5.65 H10 M1,8.4 H10 M5.5,0.5 V9.5 Q5.5,10.6 6.7,10.6 H10.4 Q11.3,10.6 11.4,8.9"/>
<path class="cj" transform="translate(261.75,176.54)" d="M0.9,1.1 L2.3,2.3 M0.5,4.5 L1.9,5.6 M0.7,11 L2.7,7.3 M7.1,0.2 L7.5,1.3 M3.8,2.3 H11.5 M7,2.4 L4.9,5.1 L10.6,4.8 M9.3,3.7 L11,5.8 M5.2,6.7 Q5.2,9.8 4,11.2 M7.7,6.7 V10.8 M10.2,6.7 V10 Q10.2,10.8 11.4,10.8 L11.6,9.6"/>
<text class="nt" x="274" y="187.1" style="font-size:12.2px" textLength="43.52" lengthAdjust="spacingAndGlyphs">700mA</text>
<text class="nt" x="210.5" y="207.1" style="font-size:12.2px" textLength="11.64" lengthAdjust="spacingAndGlyphs">4.</text>
<path class="cj" transform="translate(225.6,196.54)" d="M1.2,1.6 H10.8 M0.3,5.9 H11.7 M4.1,1.6 V6.3 Q3.9,9.6 1.4,11.2 M8.1,1.6 V11.4"/>
<path class="cj" transform="translate(237.65,196.54)" d="M3.3,0.4 L4.4,2.4 M8.8,0.4 L7.6,2.4 M1.7,3.3 H10.3 M0.5,6.3 H11.5 M6,3.3 V6.3 Q5.2,9.6 0.9,11.3 M6.4,7.2 Q8.3,10 11.4,11.2"/>
<path class="cj" transform="translate(249.7,196.54)" d="M2.8,0.4 V4.3 M2.8,2.2 H4.8 M1,1.9 V4.3 M0.3,4.4 H5.2 M2.7,4.4 V7.4 M1.4,5.8 L0.8,8 M4.7,5.4 Q4.3,9.4 0.5,11.3 M6,1.1 H11.6 M8.7,1.1 L8.2,2.7 M6.6,2.7 H11 V8.7 M6.6,2.7 V8.7 M6.6,4.7 H11 M6.6,6.7 H11 M8.3,8.8 L6,11.2 M9.4,9 L11.7,11.2"/>
<path class="cj" transform="translate(261.75,196.54)" d="M6,0.2 L6.4,1.2 M0.8,1.9 H11.2 M6.3,2.4 L4.4,4.3 L7.2,5 M7.5,3.5 L4.2,6.9 L8.4,6.6 M7.6,5.6 L8.7,6.9 M1.2,3.3 L2.6,4.5 M0.9,7.4 L2.8,5.9 M10.4,3.1 L9.2,4.5 M9.2,5.9 L11,7.4 M0.4,8.5 H11.6 M6,7.1 V11.5"/>
<text class="nt" x="274" y="207.1" style="font-size:12.2px" textLength="45.51" lengthAdjust="spacingAndGlyphs">1.2MHz</text>
<g fill="none" stroke="#4585f5" stroke-width="1.75" stroke-linecap="round" stroke-linejoin="round">
<path d="M715.8,794 A5,5 0 1 1 718.5,785.4 A6.3,6.3 0 0 1 730.3,786.7 A4.1,4.1 0 0 1 729.4,794.6 L727.9,794.6"/>
<circle cx="719" cy="794.3" r="2.3"/>
<path d="M721.3,792.4 L726.9,790.3"/>
<path d="M746.5,782.4 L746.5,783.6 M740.3,784.2 L751.7,784.2 M742,786.4 L742.9,792.5 M750.3,786.4 L747.5,792.5 M738.7,794.6 L751.4,794.6"/>
<path d="M754.6,785.5 L757.2,782.7 L760.6,782.7 L761.7,785.3 M757.6,791.5 L760.3,791.5 L761.1,788.3 L755.8,788.3 L754.6,793.6 L760.6,794.6"/>
<path d="M764.6,784.3 L763.6,792.2 M767.4,782.6 L766.3,793.4 L763.3,794.7"/>
</g>
<text x="769.6" y="794.8" textLength="33.2" lengthAdjust="spacingAndGlyphs" style="font-family:'Liberation Sans',sans-serif;font-weight:bold;font-style:italic;font-size:17.2px;fill:#4585f5">EDA</text>
<circle class="j" cx="240" cy="257.29" r="2.6"/>
<circle class="j" cx="300" cy="257.29" r="2.6"/>
<circle class="j" cx="350" cy="257.29" r="2.6"/>
<circle class="j" cx="390" cy="257.29" r="2.6"/>
<circle class="j" cx="190" cy="297.31" r="2.6"/>
<circle class="j" cx="300" cy="297.31" r="2.6"/>
<circle class="j" cx="190" cy="337.32" r="2.6"/>
<circle class="j" cx="490" cy="267.29" r="2.6"/>
<circle class="j" cx="490" cy="307.31" r="2.6"/>
<circle class="j" cx="550" cy="267.29" r="2.6"/>
<circle class="j" cx="550" cy="307.31" r="2.6"/>
<circle class="j" cx="610" cy="267.29" r="2.6"/>
<circle class="j" cx="610" cy="307.31" r="2.6"/>
<circle class="j" cx="650" cy="267.29" r="2.6"/>
<circle class="j" cx="650" cy="307.31" r="2.6"/>
<circle class="j" cx="700" cy="267.29" r="2.6"/>
<circle class="j" cx="700" cy="307.31" r="2.6"/>
<circle class="j" cx="750" cy="267.29" r="2.6"/>
<circle class="j" cx="750" cy="307.31" r="2.6"/>
<circle class="j" cx="610" cy="227.27" r="2.6"/>
<circle class="j" cx="790" cy="187.25" r="2.6"/>
<circle class="j" cx="790" cy="267.29" r="2.6"/>
<circle class="j" cx="360" cy="447.38" r="2.6"/>
<circle class="j" cx="410" cy="447.38" r="2.6"/>
<circle class="j" cx="300" cy="487.4" r="2.6"/>
<circle class="j" cx="360" cy="487.4" r="2.6"/>
<circle class="j" cx="360" cy="607.46" r="2.6"/>
<circle class="j" cx="410" cy="607.46" r="2.6"/>
<circle class="j" cx="300" cy="647.48" r="2.6"/>
<circle class="j" cx="360" cy="647.48" r="2.6"/>
<circle class="j" cx="775" cy="462.39" r="2.6"/>
<circle class="j" cx="774" cy="542.43" r="2.6"/>
</g></svg>
</body></html>
